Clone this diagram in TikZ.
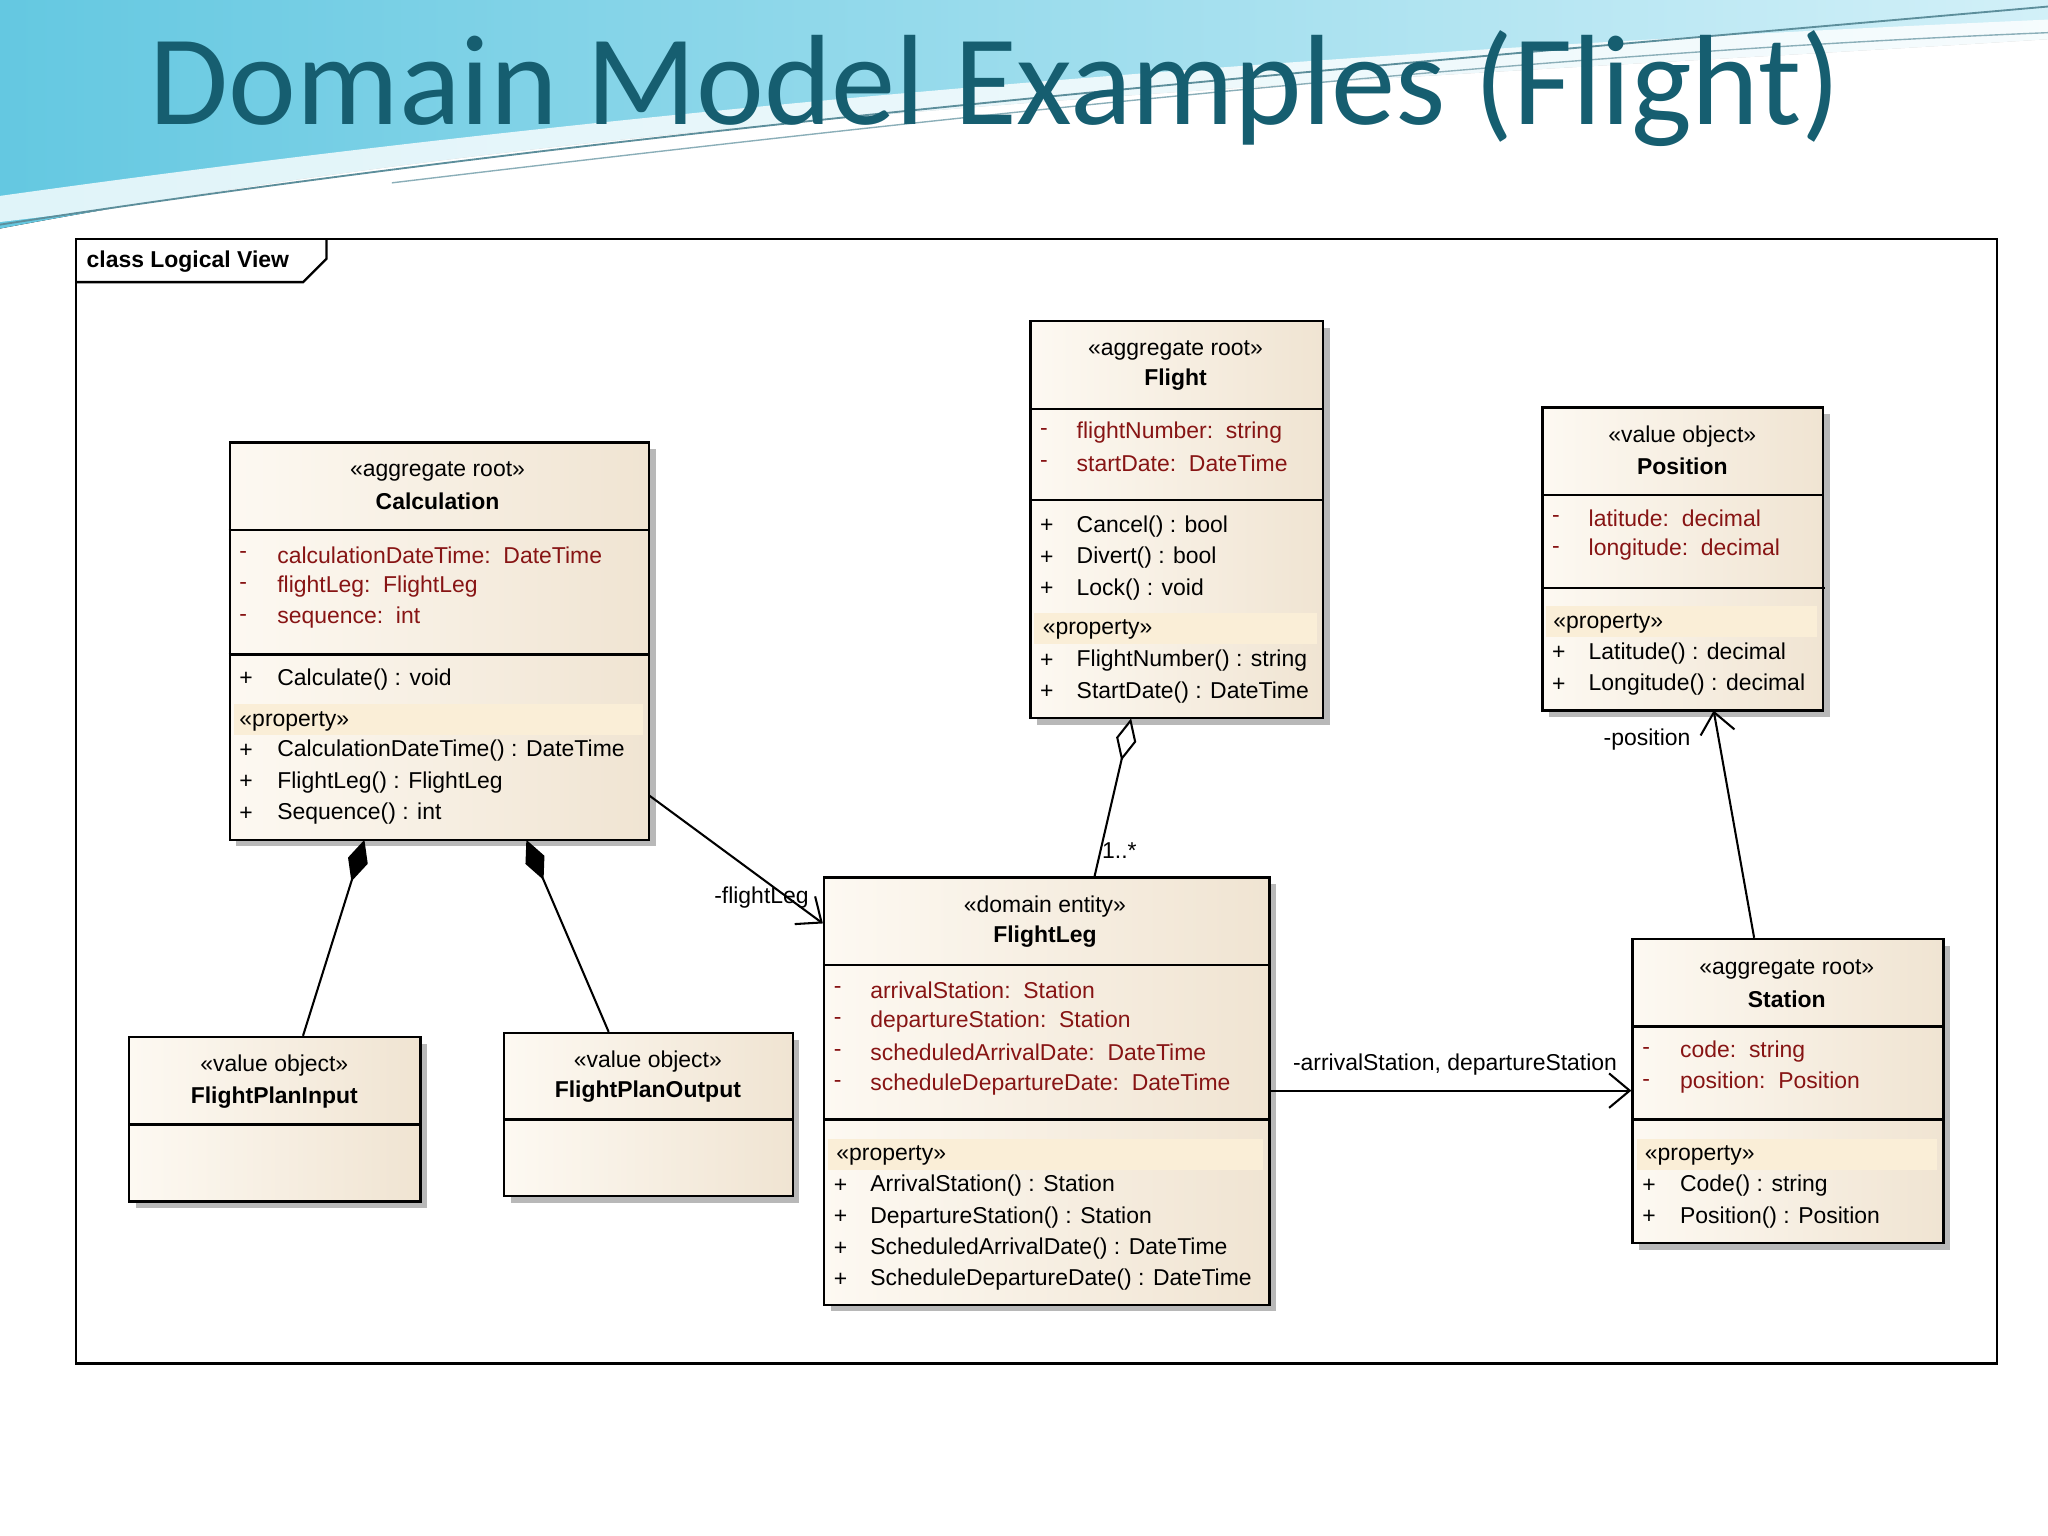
\documentclass[tikz,border=0pt]{standalone}
\usepackage{fontspec}
\setmainfont{Liberation Sans}
\newfontfamily\titlefont{Carlito}
\usetikzlibrary{arrows.meta,calc}
\definecolor{attr}{RGB}{135,20,20}
\definecolor{titlec}{RGB}{22,94,112}
\definecolor{boxa}{RGB}{253,249,242}
\definecolor{boxb}{RGB}{240,228,210}
\definecolor{bandc}{RGB}{250,238,215}
\tikzset{
 box/.style={draw=black, line width=1pt, left color=boxa, right color=boxb, anchor=north west, inner sep=0pt},
 t/.style={anchor=west, font=\fontsize{10}{12}\selectfont, inner sep=0pt},
 tc/.style={anchor=center, font=\fontsize{10}{12}\selectfont, inner sep=0pt},
 a/.style={t, text=attr},
 lbl/.style={font=\fontsize{10}{12}\selectfont, inner sep=1pt},
 conn/.style={line width=0.9pt},
 openarr/.style={conn, -{Straight Barb[length=9pt,width=15pt]}},
 comp/.style={conn, {Diamond[length=19pt,width=9pt,fill=black]}-},
 aggr/.style={conn, {Diamond[open,length=19pt,width=9pt,fill=white]}-},
}
\newcommand{\umlbox}[5]{%
 \fill[black!28] (#2+6,#3+6) rectangle (#4+6,#5+6);
 \node[box, minimum width={(#4-#2)*0.02cm}, minimum height={(#5-#3)*0.02cm}] (#1) at (#2,#3) {};}
\newcommand{\hl}[3]{\draw[line width=1pt] (#1,#3) -- (#2,#3);}
\newcommand{\band}[4]{\fill[bandc] (#1,#3) rectangle (#2,#4);}
\begin{document}
\begin{tikzpicture}[x=0.02cm,y=-0.02cm]
\useasboundingbox (0,0) rectangle (1568,1176);
\fill[white] (0,0) rectangle (1568,1176);
% banner
\fill[left color={rgb,255:red,100;green,200;blue,225}, right color={rgb,255:red,210;green,240;blue,248}]
 (0,0) -- (1568,0) -- (1568,30) .. controls (1100,60) and (500,80) .. (0,175) -- cycle;
\fill[white,opacity=0.8] (0,150) .. controls (500,80) and (1000,40) .. (1568,15) -- (1568,35) .. controls (1000,70) and (500,110) .. (0,170) -- cycle;
\draw[titlec!70,line width=0.8pt] (0,172) .. controls (500,95) and (1000,55) .. (1568,5);
\draw[titlec!50,line width=0.6pt] (300,140) .. controls (800,80) and (1200,40) .. (1568,25);
\node[font=\titlefont\fontsize{56}{64}\selectfont, text=titlec, inner sep=0pt] (title) at (762,68) {Domain Model Examples (Flight)};
% frame
\draw[line width=1pt] (58,183) rectangle (1529,1044);
\draw[line width=1pt] (58,216) -- (232,216) -- (250,198) -- (250,183);
\node[t, font=\fontsize{10}{12}\selectfont\bfseries] (frl) at (66,200) {class Logical View};

% Flight
\umlbox{flight}{788}{245}{1012}{549}
\node[tc] (f1) at (900,268) {«aggregate root»};
\node[tc,font=\fontsize{10}{12}\selectfont\bfseries] (f2) at (900,291) {Flight};
\hl{788}{1012}{313}
\node[a] at (796,331) {-}; \node[a] (f3) at (824,331) {flightNumber:\ \ string};
\node[a] at (796,355) {-}; \node[a] (f4) at (824,355) {startDate:\ \ DateTime};
\hl{788}{1014}{383}
\node[t] at (796,403) {+}; \node[t] (f5) at (824,403) {Cancel() : bool};
\node[t] at (796,427) {+}; \node[t] (f6) at (824,427) {Divert() : bool};
\node[t] at (796,451) {+}; \node[t] (f7) at (824,451) {Lock() : void};
\band{792}{1008}{469}{493}
\node[t] (f8) at (798,482) {«property»};
\node[t] at (796,506) {+}; \node[t] (f9) at (824,506) {FlightNumber() : string};
\node[t] at (796,530) {+}; \node[t] (f10) at (824,530) {StartDate() : DateTime};

% Position
\umlbox{pos}{1180}{311}{1395}{543}
\node[tc] (p1) at (1288,334) {«value object»};
\node[tc,font=\fontsize{10}{12}\selectfont\bfseries] (p2) at (1288,357) {Position};
\hl{1180}{1395}{379}
\node[a] at (1188,397) {-}; \node[a] (p3) at (1216,397) {latitude:\ \ decimal};
\node[a] at (1188,421) {-}; \node[a] (p4) at (1216,421) {longitude:\ \ decimal};
\hl{1180}{1397}{450}
\band{1184}{1391}{464}{488}
\node[t] (p5) at (1189,477) {«property»};
\node[t] at (1188,500) {+}; \node[t] (p6) at (1216,500) {Latitude() : decimal};
\node[t] at (1188,524) {+}; \node[t] (p7) at (1216,524) {Longitude() : decimal};

% Calculation
\umlbox{calc}{175}{338}{496}{642}
\node[tc] (c1) at (335,361) {«aggregate root»};
\node[tc,font=\fontsize{10}{12}\selectfont\bfseries] (c2) at (335,384) {Calculation};
\hl{175}{496}{406}
\node[a] at (183,425) {-}; \node[a] (c3) at (212,425) {calculationDateTime:\ \ DateTime};
\node[a] at (183,449) {-}; \node[a] (c4) at (212,449) {flightLeg:\ \ FlightLeg};
\node[a] at (183,473) {-}; \node[a] (c5) at (212,473) {sequence:\ \ int};
\hl{175}{498}{501}
\node[t] at (183,520) {+}; \node[t] (c6) at (212,520) {Calculate() : void};
\band{179}{492}{539}{563}
\node[t] (c7) at (183,552) {«property»};
\node[t] at (183,575) {+}; \node[t] (c8) at (212,575) {CalculationDateTime() : DateTime};
\node[t] at (183,599) {+}; \node[t] (c9) at (212,599) {FlightLeg() : FlightLeg};
\node[t] at (183,623) {+}; \node[t] (c10) at (212,623) {Sequence() : int};

% FlightLeg
\umlbox{leg}{630}{671}{971}{998}
\node[tc] (l1) at (800,694) {«domain entity»};
\node[tc,font=\fontsize{10}{12}\selectfont\bfseries] (l2) at (800,717) {FlightLeg};
\hl{630}{971}{739}
\node[a] at (638,758) {-}; \node[a] (l3) at (666,758) {arrivalStation:\ \ Station};
\node[a] at (638,782) {-}; \node[a] (l4) at (666,782) {departureStation:\ \ Station};
\node[a] at (638,806) {-}; \node[a] (l5) at (666,806) {scheduledArrivalDate:\ \ DateTime};
\node[a] at (638,830) {-}; \node[a] (l6) at (666,830) {scheduleDepartureDate:\ \ DateTime};
\hl{630}{973}{857}
\band{634}{967}{872}{896}
\node[t] (l7) at (640,885) {«property»};
\node[t] at (638,908) {+}; \node[t] (l8) at (666,908) {ArrivalStation() : Station};
\node[t] at (638,932) {+}; \node[t] (l9) at (666,932) {DepartureStation() : Station};
\node[t] at (638,956) {+}; \node[t] (l10) at (666,956) {ScheduledArrivalDate() : DateTime};
\node[t] at (638,980) {+}; \node[t] (l11) at (666,980) {ScheduleDepartureDate() : DateTime};

% Station
\umlbox{sta}{1249}{718}{1487}{951}
\node[tc] (s1) at (1368,742) {«aggregate root»};
\node[tc,font=\fontsize{10}{12}\selectfont\bfseries] (s2) at (1368,765) {Station};
\hl{1249}{1487}{786}
\node[a] at (1257,805) {-}; \node[a] (s3) at (1286,805) {code:\ \ string};
\node[a] at (1257,829) {-}; \node[a] (s4) at (1286,829) {position:\ \ Position};
\hl{1249}{1489}{857}
\band{1253}{1483}{872}{896}
\node[t] (s5) at (1259,885) {«property»};
\node[t] at (1257,908) {+}; \node[t] (s6) at (1286,908) {Code() : string};
\node[t] at (1257,932) {+}; \node[t] (s7) at (1286,932) {Position() : Position};

% FlightPlanInput / Output
\umlbox{fpi}{98}{793}{321}{919}
\node[tc] (i1) at (210,816) {«value object»};
\node[tc,font=\fontsize{10}{12}\selectfont\bfseries] (i2) at (210,840) {FlightPlanInput};
\hl{98}{321}{861}
\umlbox{fpo}{385}{790}{606}{915}
\node[tc] (o1) at (496,813) {«value object»};
\node[tc,font=\fontsize{10}{12}\selectfont\bfseries] (o2) at (496,836) {FlightPlanOutput};
\hl{385}{606}{857}

% connectors
\coordinate (ca) at (279,643); \coordinate (ia) at (232,793);
\coordinate (cb) at (403,643); \coordinate (ob) at (466,790);
\draw[comp] (ca) -- (ia);
\draw[comp] (cb) -- (ob);
\coordinate (fa) at (866,550); \coordinate (la) at (838,671);
\draw[aggr] (fa) -- (la);
\node[lbl] (m1) at (857,651) {1..*};
\coordinate (cc) at (497,609); \coordinate (lc) at (630,707);
\draw[openarr] (cc) -- (lc);
\node[lbl,fill=white,fill opacity=0,text opacity=1] (m2) at (583,687) {-flightLeg};
\coordinate (ld) at (971,835); \coordinate (sd) at (1249,835);
\draw[openarr] (ld) -- (sd);
\node[lbl] (m3) at (1114,815) {-arrivalStation, departureStation};
\coordinate (se) at (1343,718); \coordinate (pe) at (1312,544);
\draw[openarr] (se) -- (pe);
\node[lbl] (m4) at (1261,566) {-position};
\end{tikzpicture}
\end{document}
